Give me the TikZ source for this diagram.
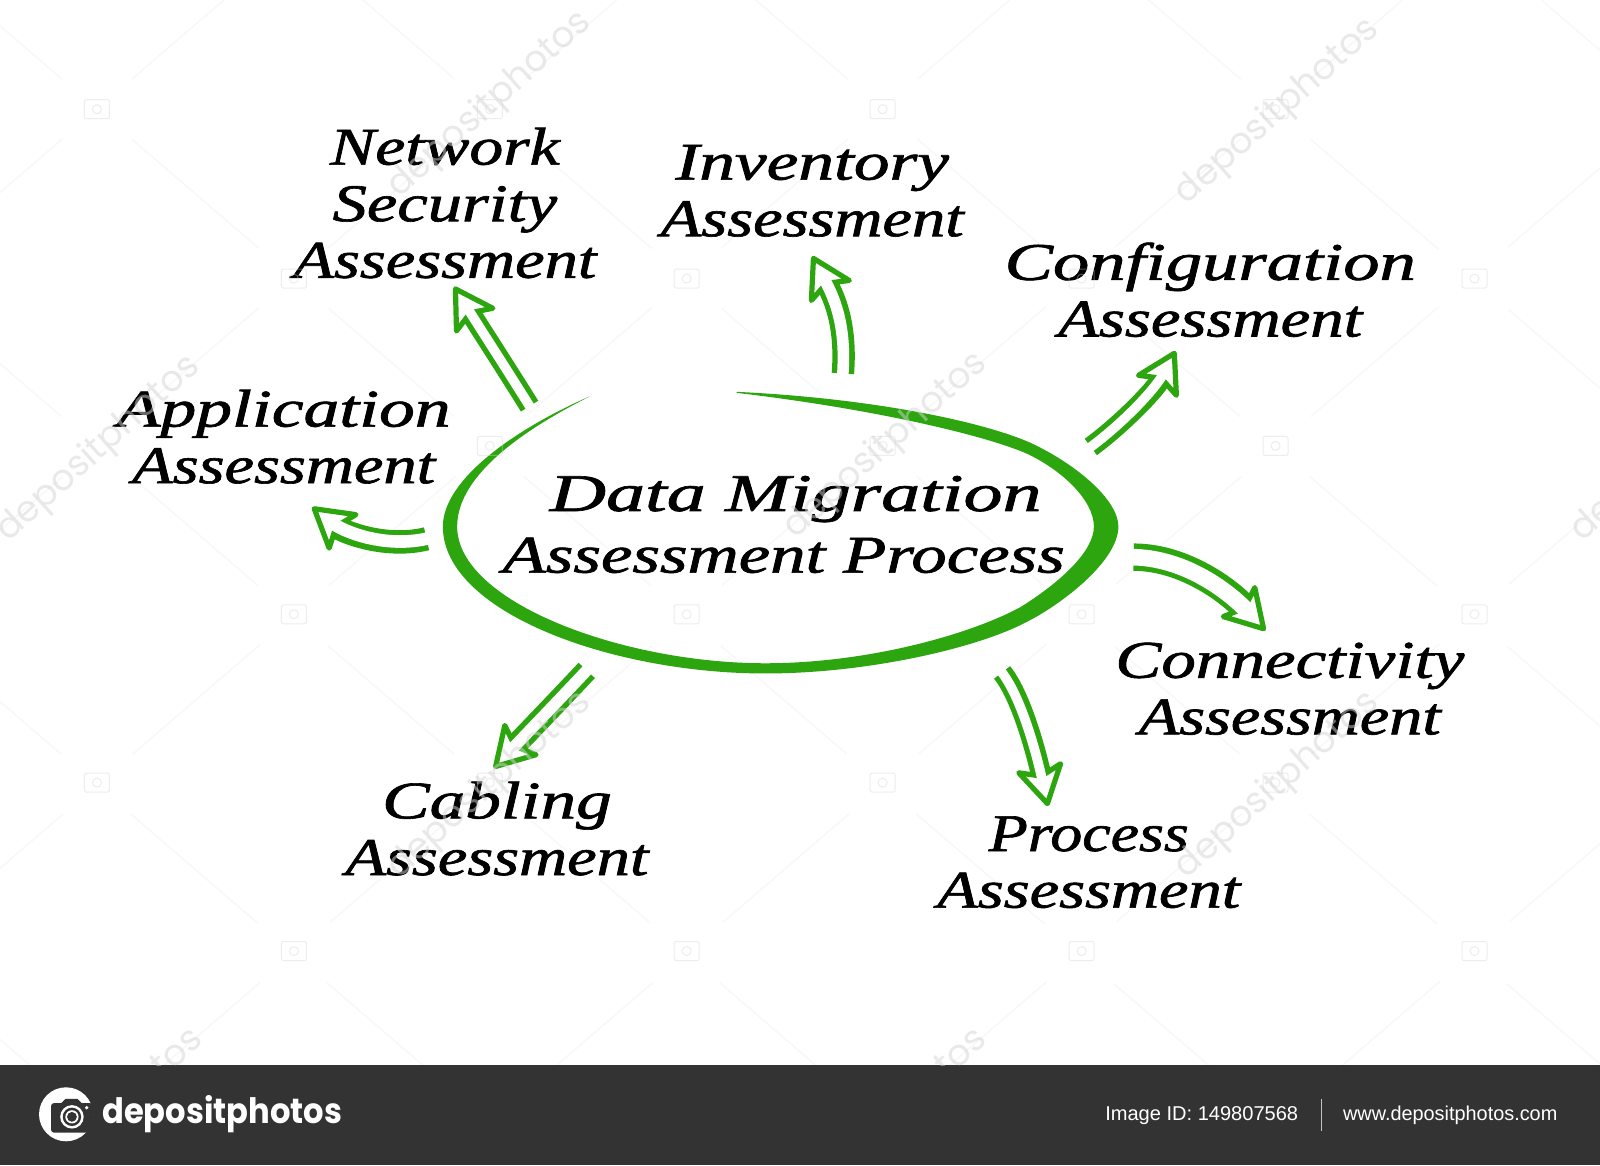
\documentclass[tikz,border=0pt]{standalone}
\usepackage{fontspec}
\usepackage{graphicx}
\usetikzlibrary{arrows.meta}
\setmainfont{Liberation Serif}
\newfontfamily\handfont[ItalicFeatures={FakeBold=1.2}]{Liberation Serif}
\newfontfamily\logofont{Poppins}
\newfontfamily\footfont{Liberation Sans}
\definecolor{arrowgreen}{HTML}{2CA50F}
\definecolor{bandgray}{HTML}{333333}
\definecolor{markgray}{HTML}{D4D4D4}
\definecolor{gridgray}{HTML}{F8F8F8}
\newcommand\fitline[2]{\resizebox{1.0204\dimexpr#1pt\relax}{\height}{#2}}
\newcommand\conn[5]{%
  \draw[hollowouter=#5] (#1) .. controls #2 and #3 .. (#4);
  \draw[hollowinner=#5] (#1) .. controls #2 and #3 .. (#4);}
\newcommand\camicon[1]{\node[camsq] at (#1) {};\node[camdot] at (#1) {};}
\tikzset{
  labeltext/.style={inner sep=0pt,align=center,text=black,font=\handfont\itshape\fontsize{53}{56.6}\selectfont},
  hollowouter/.style={draw=arrowgreen,line width=#1pt+5.4pt,
    -{Stealth[open,fill=white,inset=10pt,length=46pt,width=54pt,line width=5.2pt,round]}},
  hollowinner/.style={draw=white,line width=#1pt-5.4pt,shorten >=24pt,shorten <=-3pt},
  watermark/.style={text=markgray,opacity=.5,font=\logofont\fontsize{36}{36}\selectfont,inner sep=0pt,rotate=42},
  camsq/.style={draw=markgray,opacity=.4,line width=1pt,rounded corners=2pt,minimum width=25pt,minimum height=19pt,inner sep=0pt},
  camdot/.style={draw=markgray,opacity=.4,line width=1pt,circle,minimum size=9pt,inner sep=0pt},
  foottext/.style={text=white,inner sep=0pt,font=\footfont\fontsize{20}{20}\selectfont}
}
\begin{document}
\begin{tikzpicture}[x=1.0204pt,y=-1.0204pt]
\useasboundingbox (0,0) rectangle (1568,1141.7);
\fill[white] (0,0) rectangle (1568,1141.7);
% faint watermark lattice
\begin{scope}
\clip (0,0) rectangle (1568,1044);
\foreach \k in {-4,...,8}{
  \draw[gridgray,line width=1.4pt] ({95+385*\k-124.4},0) -- ({95+385*\k+1089.5},1044);
}
\foreach \k in {-1,...,12}{
  \draw[gridgray,line width=1.4pt] ({95+385*\k+124.4},0) -- ({95+385*\k-1089.5},1044);
}
\foreach \a/\b in {95/107,480/107,865/107,1250/107,288/273,673/273,1060/273,1445/273,480/437,865/437,1250/437,95/437,288/602,673/602,1060/602,1445/602,95/767,480/767,865/767,1250/767,288/932,673/932,1060/932,1445/932}{
  \fill[white] (\a,\b) circle (45);
}
\end{scope}
% footer band
\fill[bandgray] (0,1044) rectangle (1568,1141.7);
% hub ring
\fill[arrowgreen] (722,384) .. controls (850,390) and (960,412) .. (1010,434)
  .. controls (1055,455) and (1096,490) .. (1096,516)
  .. controls (1096,550) and (1040,592) .. (1009,608)
  .. controls (960,635) and (850,660) .. (750,660)
  .. controls (600,660) and (434,600) .. (434,516)
  .. controls (434,470) and (505,420) .. (579,388)
  .. controls (515,420) and (448,465) .. (448,516)
  .. controls (448,590) and (610,650) .. (750,650)
  .. controls (850,650) and (950,622) .. (1000,595)
  .. controls (1040,570) and (1072,540) .. (1072,516)
  .. controls (1072,490) and (1040,460) .. (1005,444)
  .. controls (960,425) and (850,400) .. (722,385) -- cycle;
% labels
\node[labeltext] (hub) at (768,514) {\hspace*{24pt}\fitline{482}{Data Migration}\\[5pt]\fitline{551}{Assessment Process}};
\node[labeltext] (net) at (436,199) {\fitline{225}{Network}\\\fitline{220}{Security}\\\fitline{297}{Assessment}};
\node[labeltext] (inv) at (796,187) {\fitline{268}{Inventory}\\\fitline{297}{Assessment}};
\node[labeltext] (cfg) at (1186,284) {\fitline{403}{Configuration}\\\fitline{298}{Assessment}};
\node[labeltext] (app) at (278,428) {\fitline{327}{Application}\\\fitline{297}{Assessment}};
\node[labeltext] (cnx) at (1264,675) {\fitline{342}{Connectivity}\\\fitline{296}{Assessment}};
\node[labeltext] (prc) at (1067,845) {\fitline{196}{Process}\\\fitline{297}{Assessment}};
\node[labeltext] (cab) at (487,812) {\fitline{225}{Cabling}\\\fitline{297}{Assessment}};
% connector ends
\coordinate (netT) at (519,398); \coordinate (netH) at (445,281);
\coordinate (invT) at (826,366); \coordinate (invH) at (796,251);
\coordinate (cfgT) at (1069,438); \coordinate (cfgH) at (1152,344);
\coordinate (cnxT) at (1111,546); \coordinate (cnxH) at (1240,618);
\coordinate (prcT) at (982,659); \coordinate (prcH) at (1027,790);
\coordinate (cabT) at (575,657); \coordinate (cabH) at (484,753);
\coordinate (appT) at (418,528); \coordinate (appH) at (306,497);
% connectors
\conn{netT}{+(-25,-40)}{+(25,40)}{netH}{15}
\conn{invT}{+(4,-50)}{+(20,38)}{invH}{17}
\conn{cfgT}{+(30,-22)}{+(-20,38)}{cfgH}{15}
\conn{cnxT}{+(50,0)}{+(-35,-38)}{cnxH}{22}
\conn{prcT}{+(18,22)}{+(-12,-55)}{prcH}{15}
\conn{cabT}{+(-30,32)}{+(30,-32)}{cabH}{17}
\conn{appT}{+(-40,10)}{+(30,24)}{appH}{18}
% footer content
\node[fill=white,circle,minimum size=54pt,inner sep=0pt] (logo) at (64.7,1092) {};
\fill[bandgray,rounded corners=3pt] (50,1081) rectangle (91,1110);
\fill[bandgray] (60,1081) -- (64,1077) -- (76,1077) -- (80,1081) -- cycle;
\fill[white] (70.5,1094.5) circle (11.5);
\fill[bandgray] (70.5,1094.5) circle (9);
\fill[white] (70.5,1094.5) circle (6.5);
\fill[bandgray] (70.5,1094.5) circle (4.8);
\fill[white] (85,1085.5) circle (1.8);
\node[foottext,anchor=west,font=\logofont\bfseries\fontsize{35}{35}\selectfont] (brand) at (100,1092) {\resizebox{1.0204\dimexpr235pt\relax}{\height}{depositphotos}};
\node[foottext,anchor=west] (imgid) at (1083,1093) {\resizebox{1.0204\dimexpr189pt\relax}{\height}{Image ID: 149807568}};
\draw[white,opacity=.7,line width=1pt] (1295,1077) -- (1295,1108);
\node[foottext,anchor=west] (site) at (1316,1093) {\resizebox{1.0204\dimexpr210pt\relax}{\height}{www.depositphotos.com}};
% watermark
\begin{scope}
\clip (0,0) rectangle (1568,1044);
\node[watermark] at (1252,110) {depositphotos};
\node[watermark] at (480,103) {depositphotos};
\node[watermark] at (868,437) {depositphotos};
\node[watermark] at (97,440) {depositphotos};
\node[watermark] at (480,770) {depositphotos};
\node[watermark] at (1252,770) {depositphotos};
\node[watermark] at (1640,440) {depositphotos};
\node[watermark] at (100,1100) {depositphotos};
\node[watermark] at (868,1100) {depositphotos};
\foreach \a/\b in {95/107,480/107,865/107,1250/107,288/273,673/273,1060/273,1445/273,480/437,865/437,1250/437,288/602,673/602,1060/602,1445/602,95/767,480/767,865/767,1250/767,288/932,673/932,1060/932,1445/932}{
  \camicon{\a,\b}
}
\end{scope}
\end{tikzpicture}
\end{document}
